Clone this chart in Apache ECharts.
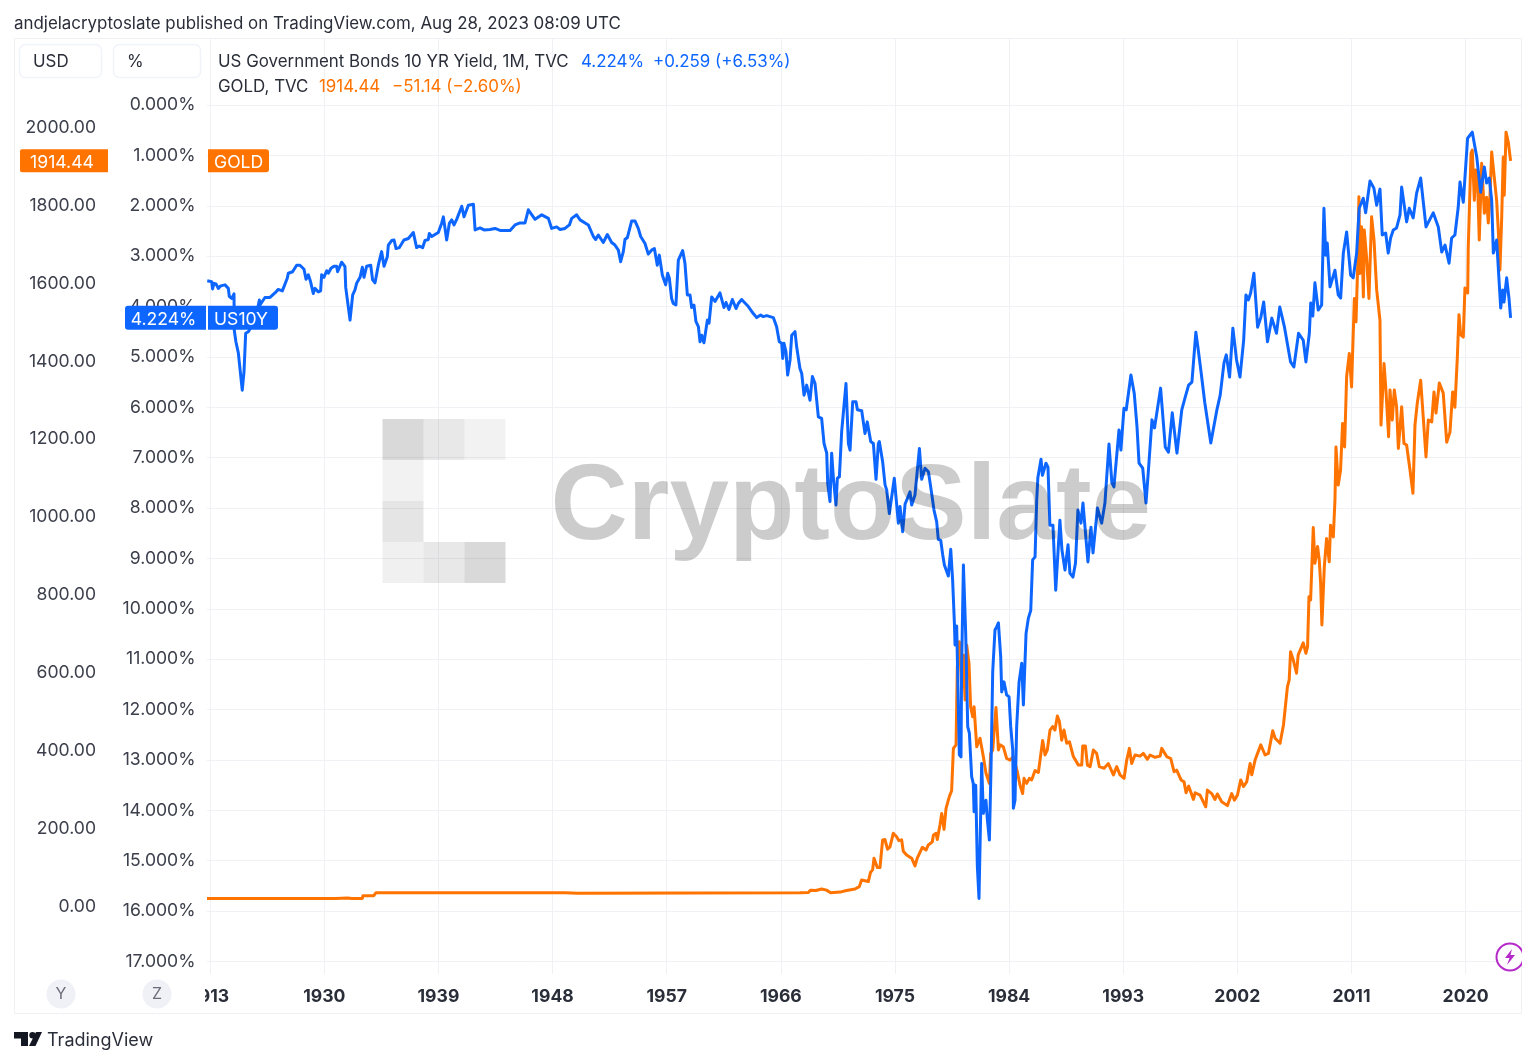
<!DOCTYPE html>
<html>
<head>
<meta charset="utf-8">
<title>US 10Y yield and gold</title>
<script src="https://cdn.jsdelivr.net/npm/echarts@6/dist/echarts.min.js"></script>
<style>
  html, body { margin: 0; padding: 0; background: #ffffff; }
  #chart { width: 1536px; height: 1064px; }
</style>
</head>
<body>
<div id="chart"></div>
<script>
// Axis ticks. The first time-scale label is cut off by the price scales.
const xTickYears = [1921, 1930, 1939, 1948, 1957, 1966, 1975, 1984, 1993, 2002, 2011, 2020];
const xTickLabels = ['1913', '1930', '1939', '1948', '1957', '1966', '1975', '1984', '1993', '2002', '2011', '2020'];
const yieldTicks = [0, 1, 2, 3, 4, 5, 6, 7, 8, 9, 10, 11, 12, 13, 14, 15, 16, 17];
const goldTicks = [0, 200, 400, 600, 800, 1000, 1200, 1400, 1600, 1800, 2000];

// US 10 year yield, [year, percent]
const yieldSeries = [
[1920.77,3.49],[1921.12,3.51],[1921.19,3.65],[1921.30,3.54],[1921.46,3.55],[1921.64,3.64],[1921.83,3.59],[1921.98,3.62],
[1922.17,3.57],[1922.43,3.64],[1922.51,3.80],[1922.69,3.84],[1922.88,3.75],[1922.90,4.47],[1923.03,4.70],[1923.22,4.92],
[1923.35,4.94],[1923.53,5.66],[1923.67,5.29],[1923.80,4.53],[1924.01,4.50],[1924.14,4.47],[1924.40,4.33],[1924.72,4.07],
[1924.88,3.87],[1924.93,3.97],[1925.32,3.82],[1925.45,3.79],[1925.72,3.82],[1926.11,3.73],[1926.37,3.66],[1926.69,3.69],
[1927.08,3.44],[1927.16,3.34],[1927.50,3.31],[1927.82,3.18],[1928.08,3.18],[1928.40,3.26],[1928.56,3.46],[1928.74,3.37],
[1928.92,3.51],[1929.13,3.74],[1929.26,3.64],[1929.53,3.71],[1929.71,3.69],[1929.79,3.37],[1929.97,3.42],[1930.19,3.29],
[1930.32,3.34],[1930.53,3.24],[1930.76,3.20],[1930.97,3.20],[1931.05,3.31],[1931.37,3.12],[1931.63,3.21],[1931.69,3.62],
[1931.81,3.64],[1932.03,4.27],[1932.24,3.77],[1932.42,3.67],[1932.55,3.54],[1932.82,3.42],[1933.00,3.22],[1933.13,3.42],
[1933.34,3.20],[1933.66,3.18],[1933.81,3.47],[1934.00,3.53],[1934.26,3.18],[1934.52,2.91],[1934.71,3.20],[1934.97,3.01],
[1935.05,2.78],[1935.31,2.69],[1935.50,2.68],[1935.66,2.85],[1935.92,2.83],[1936.28,2.68],[1936.63,2.65],[1937.02,2.53],
[1937.28,2.83],[1937.49,2.80],[1937.76,2.83],[1937.94,2.69],[1938.20,2.67],[1938.28,2.55],[1938.47,2.61],[1938.99,2.53],
[1939.25,2.35],[1939.39,2.22],[1939.52,2.23],[1939.65,2.68],[1939.86,2.35],[1940.05,2.28],[1940.23,2.38],[1940.44,2.27],
[1940.84,2.01],[1941.02,2.22],[1941.36,1.99],[1941.76,1.97],[1941.89,2.48],[1942.28,2.44],[1942.60,2.48],[1943.07,2.47],
[1943.46,2.45],[1943.86,2.49],[1944.65,2.49],[1945.04,2.38],[1945.44,2.34],[1945.83,2.34],[1946.09,2.08],[1946.22,2.07],
[1946.62,2.27],[1947.15,2.18],[1947.67,2.25],[1947.93,2.45],[1948.33,2.42],[1948.59,2.47],[1948.98,2.45],[1949.33,2.38],
[1949.51,2.25],[1949.90,2.18],[1950.17,2.28],[1950.82,2.38],[1951.22,2.61],[1951.40,2.67],[1951.61,2.58],[1951.74,2.58],
[1952.00,2.73],[1952.32,2.57],[1952.66,2.73],[1952.92,2.78],[1953.19,2.88],[1953.37,3.11],[1953.58,2.91],[1953.71,2.67],
[1953.90,2.63],[1954.24,2.30],[1954.50,2.30],[1954.76,2.45],[1954.95,2.61],[1955.29,2.75],[1955.55,2.96],[1955.81,2.88],
[1956.03,2.85],[1956.26,3.18],[1956.42,2.98],[1956.66,3.38],[1956.92,3.57],[1957.08,3.34],[1957.21,3.44],[1957.39,3.84],
[1957.52,3.94],[1957.73,3.97],[1957.92,3.08],[1958.26,2.89],[1958.44,3.14],[1958.63,3.77],[1958.84,3.77],[1958.97,4.02],
[1959.15,3.97],[1959.31,4.30],[1959.50,4.40],[1959.63,4.70],[1959.76,4.57],[1959.94,4.72],[1960.21,4.27],[1960.34,4.33],
[1960.55,3.81],[1960.81,3.90],[1961.20,3.73],[1961.34,3.74],[1961.52,4.02],[1961.68,3.92],[1961.91,4.06],[1962.18,3.86],
[1962.47,4.04],[1962.65,3.94],[1962.91,3.86],[1963.44,4.00],[1963.83,4.14],[1964.10,4.22],[1964.41,4.17],[1964.62,4.20],
[1964.89,4.18],[1965.41,4.22],[1965.67,4.40],[1965.88,4.70],[1966.07,4.73],[1966.15,5.03],[1966.25,4.73],[1966.41,4.90],
[1966.54,5.36],[1966.73,5.06],[1966.86,4.57],[1967.12,4.50],[1967.25,4.80],[1967.38,4.83],[1967.51,5.23],[1967.65,5.33],
[1967.83,5.76],[1968.04,5.56],[1968.30,5.86],[1968.49,5.39],[1968.70,5.53],[1968.96,6.19],[1969.22,6.22],[1969.41,6.72],
[1969.62,6.91],[1969.70,7.51],[1969.88,7.87],[1970.01,6.91],[1970.14,7.38],[1970.35,7.94],[1970.46,7.41],[1970.62,7.38],
[1970.80,6.48],[1970.93,6.45],[1971.14,5.53],[1971.33,6.72],[1971.46,6.85],[1971.67,5.89],[1971.93,5.89],[1972.04,6.05],
[1972.38,6.07],[1972.64,6.52],[1972.82,6.29],[1973.09,6.68],[1973.30,6.72],[1973.51,7.43],[1973.69,6.72],[1973.77,6.68],
[1974.03,7.08],[1974.22,7.54],[1974.35,7.64],[1974.56,8.11],[1974.95,7.41],[1975.27,8.30],[1975.40,7.97],[1975.61,8.47],
[1975.80,7.92],[1975.98,7.81],[1976.19,7.68],[1976.32,7.94],[1976.58,7.74],[1976.93,6.82],[1977.11,7.43],[1977.37,7.21],
[1977.64,7.28],[1977.82,7.58],[1978.08,8.04],[1978.29,8.27],[1978.42,8.62],[1978.61,8.64],[1978.77,8.93],[1978.90,9.13],
[1979.03,9.16],[1979.21,9.35],[1979.40,8.82],[1979.55,9.43],[1979.69,10.29],[1979.74,10.72],[1979.87,10.34],[1980.08,12.90],
[1980.21,12.94],[1980.26,11.15],[1980.40,9.13],[1980.58,10.49],[1980.74,12.34],[1980.87,12.47],[1981.05,13.33],[1981.18,13.47],
[1981.24,14.03],[1981.37,13.50],[1981.50,15.12],[1981.63,15.75],[1981.84,13.07],[1981.97,14.06],[1982.18,13.80],[1982.29,14.19],
[1982.45,14.59],[1982.58,13.13],[1982.71,11.25],[1982.84,11.25],[1982.89,10.42],[1983.02,10.36],[1983.16,10.28],[1983.34,10.95],
[1983.42,11.65],[1983.60,11.45],[1983.81,11.71],[1984.00,11.75],[1984.13,12.34],[1984.29,12.80],[1984.34,13.96],[1984.47,13.80],
[1984.60,12.34],[1984.79,11.45],[1985.00,11.08],[1985.13,11.91],[1985.34,10.49],[1985.52,10.19],[1985.71,10.03],[1985.86,9.03],
[1986.05,8.97],[1986.18,7.84],[1986.27,7.40],[1986.52,7.03],[1986.63,7.35],[1986.91,7.11],[1987.07,7.19],[1987.22,8.34],
[1987.46,8.34],[1987.68,9.63],[1988.01,8.24],[1988.17,8.83],[1988.41,9.23],[1988.65,8.73],[1988.80,9.29],[1989.04,9.37],
[1989.24,9.09],[1989.43,8.04],[1989.67,8.30],[1989.83,7.90],[1990.22,9.07],[1990.46,8.38],[1990.62,8.89],[1990.97,8.00],
[1991.30,8.30],[1991.56,7.90],[1991.88,6.73],[1992.11,7.50],[1992.27,7.58],[1992.67,6.45],[1992.82,6.85],[1993.06,6.02],
[1993.24,6.05],[1993.61,5.36],[1993.87,5.72],[1994.09,6.39],[1994.25,7.11],[1994.54,7.21],[1994.80,7.90],[1994.99,7.25],
[1995.27,6.25],[1995.47,6.41],[1995.95,5.62],[1996.32,6.79],[1996.57,6.89],[1996.87,6.11],[1997.24,6.91],[1997.62,6.05],
[1997.87,5.82],[1998.16,5.56],[1998.42,5.50],[1998.73,4.51],[1998.90,4.82],[1999.17,5.36],[1999.43,5.90],[1999.91,6.71],
[2000.39,6.05],[2000.65,5.76],[2000.95,5.12],[2001.13,4.96],[2001.39,5.40],[2001.65,4.43],[2001.94,5.06],[2002.21,5.40],
[2002.50,4.67],[2002.68,3.77],[2002.87,3.87],[2003.05,3.73],[2003.31,3.34],[2003.60,4.41],[2003.86,4.21],[2004.08,3.91],
[2004.38,4.70],[2004.72,4.23],[2005.09,4.53],[2005.35,4.01],[2005.72,4.41],[2006.20,5.10],[2006.46,5.20],[2006.83,4.53],
[2007.20,4.67],[2007.41,5.10],[2007.68,4.53],[2007.79,3.93],[2007.95,4.19],[2008.12,3.53],[2008.38,4.07],[2008.65,3.97],
[2008.83,2.05],[2008.97,2.98],[2009.09,2.74],[2009.31,3.61],[2009.70,3.28],[2009.96,3.77],[2010.15,3.83],[2010.36,2.94],
[2010.62,2.52],[2010.94,3.38],[2011.14,3.43],[2011.41,2.94],[2011.61,2.05],[2011.93,1.85],[2012.12,2.14],[2012.46,1.51],
[2012.77,1.65],[2012.99,1.99],[2013.25,1.67],[2013.43,2.58],[2013.70,2.54],[2013.90,2.94],[2014.09,2.64],[2014.30,2.48],
[2014.56,2.44],[2014.83,2.18],[2014.96,1.63],[2015.35,2.32],[2015.56,2.05],[2015.87,2.24],[2016.14,1.75],[2016.46,1.45],
[2016.88,2.42],[2017.45,2.14],[2017.85,2.42],[2018.12,2.92],[2018.38,2.78],[2018.70,3.14],[2018.90,2.64],[2019.16,2.58],
[2019.42,2.03],[2019.56,1.53],[2019.82,1.93],[2020.16,0.66],[2020.53,0.54],[2020.88,1.03],[2021.19,1.73],[2021.48,1.23],
[2021.66,1.55],[2021.87,1.45],[2022.06,1.89],[2022.19,2.94],[2022.45,2.68],[2022.77,4.03],[2022.93,3.67],[2023.03,3.91],
[2023.24,3.43],[2023.42,3.83],[2023.55,4.224]
];

// Gold spot, [year, USD]
const goldSeries = [
[1920.75,20.67],[1930.87,20.67],[1930.95,22],[1931.85,22],[1932.15,20.67],[1933.00,20.67],[1933.05,27.7],[1933.90,27.7],
[1934.07,35],[1949.00,35],[1949.10,34],[1950.00,34],[1950.10,35],[1967.51,35.4],[1968.17,36],[1968.35,42],[1968.77,41],
[1969.22,45],[1969.61,42],[1969.93,35.4],[1970.67,37],[1971.19,41],[1971.85,45],[1972.19,51],[1972.37,68],[1972.90,64],
[1973.08,88],[1973.24,94],[1973.35,124],[1973.61,100],[1973.82,100],[1974.03,171],[1974.21,172],[1974.42,147],[1974.61,153],
[1974.87,188],[1975.13,179],[1975.32,169],[1975.53,171],[1975.66,142],[1975.92,132],[1976.32,124],[1976.58,104],[1976.76,124],
[1977.16,152],[1977.45,145],[1977.63,158],[1977.95,166],[1978.03,183],[1978.24,188],[1978.34,172],[1978.55,209],[1978.69,239],
[1978.87,198],[1979.03,252],[1979.16,254],[1979.29,282],[1979.47,297],[1979.61,406],[1979.82,415],[1979.92,616],[1980.08,680],
[1980.26,564],[1980.40,646],[1980.53,530],[1980.66,671],[1980.84,624],[1980.97,513],[1981.13,487],[1981.24,513],[1981.45,410],
[1981.71,432],[1981.97,385],[1982.18,342],[1982.45,316],[1982.55,393],[1982.71,402],[1982.97,511],[1983.16,402],[1983.29,415],
[1983.55,410],[1983.81,380],[1984.08,376],[1984.34,385],[1984.65,346],[1984.86,312],[1985.07,290],[1985.18,329],[1985.39,316],
[1985.60,329],[1985.78,325],[1986.05,349],[1986.31,344],[1986.65,426],[1986.84,389],[1987.02,402],[1987.23,453],[1987.44,462],
[1987.62,453],[1987.81,489],[1987.97,475],[1988.15,427],[1988.33,453],[1988.55,419],[1988.76,423],[1989.07,385],[1989.47,363],
[1989.73,363],[1989.81,412],[1990.02,412],[1990.18,363],[1990.39,359],[1990.65,402],[1990.91,393],[1991.12,359],[1991.49,355],
[1991.83,367],[1992.23,338],[1992.49,359],[1992.75,338],[1993.07,329],[1993.28,376],[1993.49,406],[1993.67,367],[1993.93,389],
[1994.33,386],[1994.59,393],[1994.91,378],[1995.12,389],[1995.51,383],[1995.91,386],[1996.04,406],[1996.43,385],[1996.75,380],
[1997.01,346],[1997.22,350],[1997.56,325],[1997.80,320],[1997.96,292],[1998.17,309],[1998.54,275],[1998.67,292],[1999.06,286],
[1999.51,256],[1999.64,299],[1999.98,290],[2000.24,275],[2000.43,289],[2000.77,269],[2001.22,259],[2001.56,290],[2001.77,273],
[2002.01,286],[2002.27,325],[2002.48,308],[2002.74,320],[2003.01,367],[2003.14,338],[2003.40,376],[2003.85,415],[2004.19,389],
[2004.45,393],[2004.79,451],[2004.98,432],[2005.37,419],[2005.64,466],[2005.77,470],[2005.95,564],[2006.09,581],[2006.20,654],
[2006.41,633],[2006.67,599],[2006.80,646],[2007.20,677],[2007.41,650],[2007.54,667],[2007.65,795],[2007.78,787],[2007.99,973],
[2008.12,881],[2008.33,924],[2008.46,890],[2008.57,830],[2008.67,723],[2008.86,872],[2009.04,945],[2009.25,885],[2009.35,979],
[2009.57,949],[2009.70,1043],[2009.78,1180],[2009.96,1082],[2010.04,1082],[2010.14,1120],[2010.30,1240],[2010.46,1180],[2010.62,1360],
[2010.83,1420],[2011.01,1334],[2011.09,1420],[2011.23,1561],[2011.36,1501],[2011.49,1642],[2011.59,1822],[2011.67,1625],[2011.80,1745],
[2011.94,1565],[2012.01,1737],[2012.20,1664],[2012.38,1561],[2012.59,1771],[2012.78,1711],[2012.99,1583],[2013.12,1583],[2013.25,1505],
[2013.33,1236],[2013.57,1394],[2013.72,1326],[2013.93,1206],[2014.04,1326],[2014.22,1249],[2014.38,1326],[2014.56,1283],[2014.70,1176],
[2014.96,1283],[2015.14,1189],[2015.35,1185],[2015.62,1120],[2015.85,1061],[2016.01,1236],[2016.19,1292],[2016.46,1351],[2016.88,1154],
[2017.06,1249],[2017.33,1244],[2017.51,1321],[2017.67,1267],[2017.93,1344],[2018.24,1318],[2018.51,1192],[2018.77,1218],[2018.98,1321],
[2019.16,1282],[2019.35,1410],[2019.48,1519],[2019.61,1468],[2019.82,1462],[2019.95,1588],[2020.17,1575],[2020.21,1690],[2020.43,1934],
[2020.53,1942],[2020.69,1813],[2020.80,1891],[2020.96,1847],[2021.08,1711],[2021.19,1706],[2021.27,1908],[2021.48,1780],[2021.66,1821],
[2021.79,1755],[2021.92,1821],[2022.06,1937],[2022.45,1813],[2022.58,1736],[2022.71,1634],[2022.85,1770],[2022.97,1924],[2023.05,1826],
[2023.19,1988],[2023.37,1962],[2023.55,1914.44]
];

const lastYield = 4.224;
const lastGold = 1914.44;

const BLUE = '#0d66ff';
const ORANGE = '#ff7300';
const GRID = '#f0f1f4';
const FONT = 'Inter';
const INK = '#3c404c';
const SCALE_SIZE = 17.6;

const chart = echarts.init(document.getElementById('chart'), null, { renderer: 'canvas' });

chart.setOption({
  animation: false,
  backgroundColor: '#ffffff',
  grid: { left: 207, right: 14, top: 38, bottom: 90, containLabel: false },
  xAxis: {
    type: 'value',
    min: 1920.75,
    max: 2024.45,
    axisLine: { show: false },
    axisTick: { show: false, customValues: xTickYears },
    splitLine: { show: true, lineStyle: { color: GRID, width: 1 } },
    axisLabel: {
      customValues: xTickYears,
      margin: 14,
      color: '#2a2e39',
      fontFamily: FONT,
      fontWeight: 700,
      fontSize: SCALE_SIZE,
      formatter: (v) => xTickLabels[xTickYears.indexOf(v)]
    }
  },
  yAxis: [
    {
      type: 'value',
      inverse: true,
      position: 'left',
      min: -1.33,
      max: 17.249,
      axisLine: { show: false },
      axisTick: { show: false, customValues: yieldTicks },
      splitLine: { show: true, lineStyle: { color: GRID, width: 1 } },
      axisLabel: {
        customValues: yieldTicks,
        margin: 11.5,
        padding: [4, 0, 0, 0],
        color: INK,
        fontFamily: FONT,
        fontSize: SCALE_SIZE,
        formatter: (v) => v.toFixed(3) + '%'
      }
    },
    {
      type: 'value',
      position: 'left',
      min: -173.3,
      max: 2229.8,
      axisLine: { show: false },
      axisTick: { show: false, customValues: goldTicks },
      splitLine: { show: false },
      axisLabel: {
        customValues: goldTicks,
        margin: 111,
        padding: [4, 0, 0, 0],
        color: INK,
        fontFamily: FONT,
        fontSize: SCALE_SIZE,
        formatter: (v) => v.toFixed(2)
      }
    }
  ],
  series: [
    {
      name: 'GOLD',
      type: 'line',
      yAxisIndex: 1,
      showSymbol: false,
      data: goldSeries,
      z: 3,
      lineStyle: { color: ORANGE, width: 3, join: 'round' },
      itemStyle: { color: ORANGE }
    },
    {
      name: 'US10Y',
      type: 'line',
      yAxisIndex: 0,
      showSymbol: false,
      data: yieldSeries,
      z: 4,
      lineStyle: { color: BLUE, width: 3, join: 'round' },
      itemStyle: { color: BLUE }
    }
  ]
});

function label(x, y, text, fill, opts) {
  return {
    type: 'text',
    z: 60,
    x: x,
    y: y + 1.5,
    style: Object.assign({
      text: text,
      fill: fill,
      fontFamily: FONT,
      fontSize: 16.9,
      textVerticalAlign: 'middle',
      textAlign: 'left'
    }, opts || {})
  };
}

function box(x, y, w, h, fill, r, z) {
  return { type: 'rect', z: z || 50, shape: { x: x, y: y, width: w, height: h, r: r || 0 }, style: { fill: fill } };
}

// Price tags follow the last values on their own scales.
const tagGoldY = chart.convertToPixel({ yAxisIndex: 1 }, lastGold);
const tagYieldY = chart.convertToPixel({ yAxisIndex: 0 }, lastYield);

const squares = [
  [382.5, 419, 0.15], [423.5, 419, 0.09], [464.5, 419, 0.05],
  [382.5, 460, 0.05],
  [382.5, 501, 0.10],
  [382.5, 542, 0.06], [423.5, 542, 0.09], [464.5, 542, 0.15]
];

chart.setOption({
  graphic: [
    // outer frame of the widget
    { type: 'rect', z: 40, shape: { x: 14.5, y: 38.5, width: 1507, height: 975 }, style: { fill: 'none', stroke: '#eff0f3', lineWidth: 1 } },

    // watermark
    ...squares.map((s) => ({ type: 'rect', z: 45, shape: { x: s[0], y: s[1], width: 41, height: 41 }, style: { fill: 'rgba(0,0,0,' + s[2] + ')' } })),
    {
      type: 'text', z: 45, x: 550.5, y: 509,
      style: { text: 'CryptoSlate', fontFamily: 'Liberation Sans', fontWeight: 700, fontSize: 107, fill: 'rgba(0,0,0,0.2)', textVerticalAlign: 'middle' }
    },

    // clipped first year label
    box(172, 984, 33, 24, '#ffffff', 0, 48),

    // header
    label(14, 22, 'andjelacryptoslate published on TradingView.com, Aug 28, 2023 08:09 UTC', '#2a2e39'),
    label(218, 60, 'US Government Bonds 10 YR Yield, 1M, TVC', '#2a2e39'),
    label(581, 60, '4.224%', BLUE),
    label(653, 60, '+0.259 (+6.53%)', BLUE),
    label(218, 85, 'GOLD, TVC', '#2a2e39'),
    label(319, 85, '1914.44', ORANGE),
    label(392, 85, '\u221251.14 (\u22122.60%)', ORANGE),

    // scale mode buttons
    { type: 'rect', z: 50, shape: { x: 19.5, y: 44.5, width: 82, height: 33, r: 6 }, style: { fill: '#fff', stroke: '#f0f3fa', lineWidth: 1.5 } },
    { type: 'rect', z: 50, shape: { x: 113.5, y: 44.5, width: 87, height: 33, r: 6 }, style: { fill: '#fff', stroke: '#f0f3fa', lineWidth: 1.5 } },
    label(33, 60, 'USD', '#2a2e39'),
    label(127, 60, '%', '#2a2e39'),

    // last value tags
    box(20, tagGoldY - 11.5, 88, 23, ORANGE, [2, 0, 0, 2]),
    label(62, tagGoldY, '1914.44', '#ffffff', { textAlign: 'center', fontSize: SCALE_SIZE }),
    box(208, tagGoldY - 11.5, 61, 23, ORANGE, [0, 3, 3, 0]),
    label(214, tagGoldY, 'GOLD', '#ffffff', { fontSize: SCALE_SIZE }),
    box(125, tagYieldY - 12, 81, 24, BLUE, [3, 0, 0, 3]),
    label(163.5, tagYieldY, '4.224%', '#ffffff', { textAlign: 'center', fontSize: SCALE_SIZE }),
    box(208, tagYieldY - 12, 70, 24, BLUE, [0, 3, 3, 0]),
    label(214, tagYieldY, 'US10Y', '#ffffff', { fontSize: SCALE_SIZE }),

    // axis corner badges
    { type: 'circle', z: 50, shape: { cx: 61, cy: 994, r: 14.5 }, style: { fill: '#eff1f6' } },
    { type: 'circle', z: 50, shape: { cx: 157, cy: 994, r: 14.5 }, style: { fill: '#eff1f6' } },
    label(61, 993, 'Y', '#6a6d78', { textAlign: 'center', fontSize: 16 }),
    label(157, 993, 'Z', '#6a6d78', { textAlign: 'center', fontSize: 16 }),

    // dividend marker at the pane edge
    { type: 'circle', z: 50, shape: { cx: 1510, cy: 957, r: 13.5 }, style: { fill: '#fff', stroke: '#b52ac9', lineWidth: 2 } },
    { type: 'polygon', z: 51, shape: { points: [[1512, 949], [1505, 958], [1509.5, 958], [1507, 965], [1515, 955], [1510.5, 955]] }, style: { fill: '#b52ac9' } },
    box(1522, 935, 14, 45, '#ffffff', 0, 52),

    // brand mark
    { type: 'polygon', z: 50, shape: { points: [[14, 1032], [28, 1032], [28, 1046], [21, 1046], [21, 1038.5], [14, 1038.5]] }, style: { fill: '#131722' } },
    { type: 'circle', z: 50, shape: { cx: 32.5, cy: 1035.3, r: 3.2 }, style: { fill: '#131722' } },
    { type: 'polygon', z: 50, shape: { points: [[36, 1032], [42, 1032], [35.5, 1046], [29, 1046]] }, style: { fill: '#131722' } },
    label(47, 1039, 'TradingView', '#2a2e39', { fontSize: 18 })
  ]
});
</script>
</body>
</html>
